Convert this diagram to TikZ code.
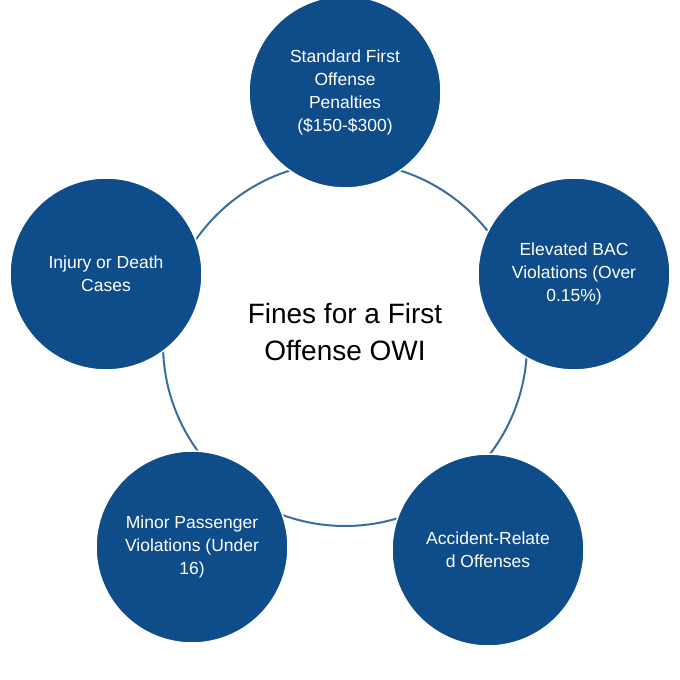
\documentclass[tikz,border=0pt]{standalone}
\usepackage{fontspec}
\setmainfont{Liberation Sans}
\begin{document}
\begin{tikzpicture}[x=1pt,y=1pt,
  bub/.style={circle,fill=cblue,draw=white,line width=1.5pt,minimum size=192pt,inner sep=0pt,align=center,text=white,font=\fontsize{17.5}{23}\selectfont}]
\definecolor{cblue}{HTML}{0F4C8A}
\definecolor{ring}{HTML}{3A6C9E}
\useasboundingbox (0,0) rectangle (680,680);
\node[circle,draw=ring,line width=2pt,minimum size=364pt,inner sep=0pt] (c) at (345,336) {};
\node[align=center,font=\fontsize{28}{37}\selectfont] (t) at (345,348) {Fines for a First\\Offense OWI};
\node[bub] (a) at (345,588) {Standard First\\Offense\\Penalties\\(\$150-\$300)};
\node[bub] (b) at (574,406) {Elevated BAC\\Violations (Over\\0.15\%)};
\node[bub] (d) at (488,130) {Accident-Relate\\d Offenses};
\node[bub] (e) at (192,133) {Minor Passenger\\Violations (Under\\16)};
\node[bub] (f) at (106,406) {Injury or Death\\Cases};
\end{tikzpicture}
\end{document}
